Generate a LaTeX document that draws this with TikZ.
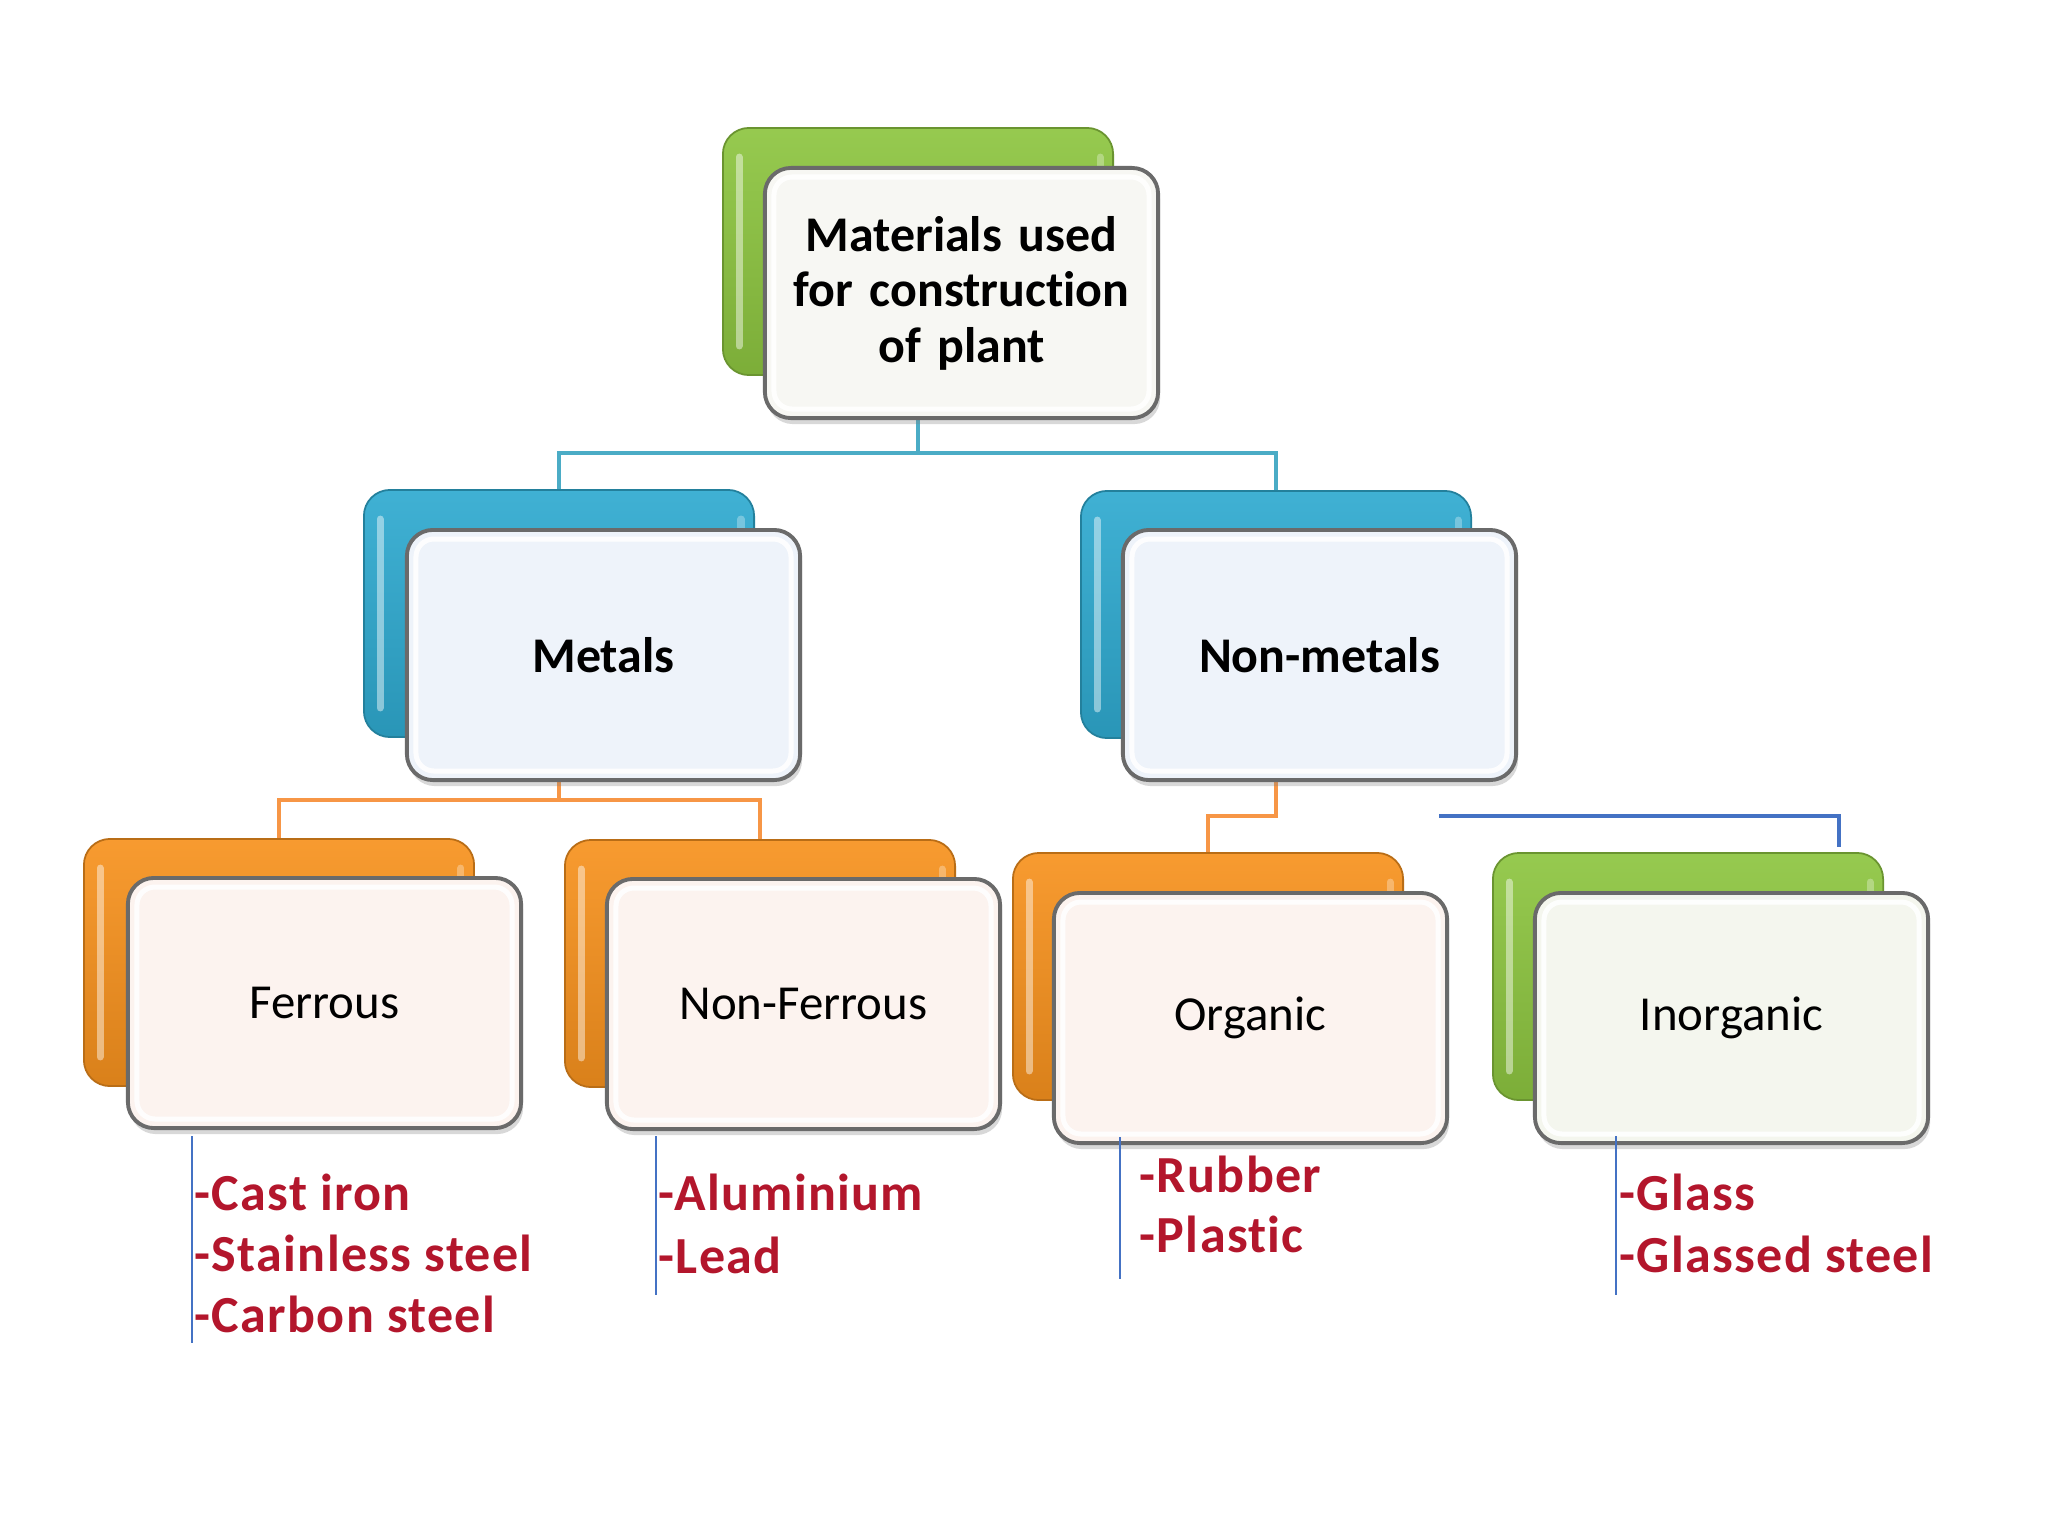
\documentclass[tikz,border=0pt]{standalone}
\usepackage{fontspec}
\setmainfont{Carlito}[RawFeature={-liga}]
\newfontfamily\listfont{Carlito}[LetterSpace=2.5,RawFeature={-liga}]
\usetikzlibrary{shadows,calc}
\definecolor{grn}{HTML}{8DC540}
\definecolor{blu}{HTML}{2FAAD0}
\definecolor{org}{HTML}{F7921E}
\definecolor{boxline}{HTML}{6A6A6A}
\definecolor{conblue}{HTML}{4BACC6}
\definecolor{conorange}{HTML}{F79646}
\definecolor{thinblue}{HTML}{4472C4}
\definecolor{listred}{HTML}{B3162C}
\definecolor{fwhite}{HTML}{F7F7F3}
\definecolor{fblue}{HTML}{EEF3FA}
\definecolor{fpeach}{HTML}{FCF3EF}
\definecolor{fgreen}{HTML}{F4F6EE}
\pgfdeclarelayer{bg}
\pgfsetlayers{bg,main}
\begin{document}
\begin{tikzpicture}[x=0.01cm,y=-0.01cm,
  backbox/.style={rounded corners=0.26cm, minimum width=3.9cm, minimum height=2.47cm, inner sep=0pt,
    draw=#1!75!black, line width=0.5pt, top color=#1!92!white, bottom color=#1!88!black},
  frontbox/.style={rounded corners=0.26cm, minimum width=3.93cm, minimum height=2.5cm, inner sep=0pt,
    draw=boxline, line width=1.1pt, fill=#1, text width=3.7cm, align=center,
    drop shadow={opacity=0.3, shadow xshift=0.02cm, shadow yshift=-0.06cm}},
  gloss/.style={white, opacity=0.45, line width=0.07cm, line cap=round},
  innerline/.style={white, opacity=0.9, line width=0.05cm, rounded corners=0.18cm},
  bigbold/.style={font=\fontsize{14.2pt}{15.8pt}\selectfont\bfseries},
  plain/.style={font=\fontsize{13.9pt}{16pt}\selectfont},
  listtext/.style={font=\listfont\fontsize{14.8pt}{17pt}\selectfont\bfseries, text=listred, anchor=base west, inner sep=0pt},
  bluecon/.style={conblue, line width=0.045cm},
  orangecon/.style={conorange, line width=0.045cm},
  thinline/.style={thinblue, line width=0.02cm},
  strayline/.style={thinblue, line width=0.045cm}]

\begin{pgfonlayer}{bg}
\fill[white] (0,0) rectangle (2048,1536);
\end{pgfonlayer}

% back boxes
\node[backbox=grn] (rootb) at (918,251.5) {};
\node[backbox=blu] (metb) at (559,613.5) {};
\node[backbox=blu] (nmb) at (1276,614.5) {};
\node[backbox=org] (ferb) at (279,962.5) {};
\node[backbox=org] (nfb) at (760,963.5) {};
\node[backbox=org] (orgb) at (1208,976.5) {};
\node[backbox=grn] (inorgb) at (1688,976.5) {};

\foreach \b in {rootb,metb,nmb,ferb,nfb,orgb,inorgb}{
  \draw[gloss] ($(\b.north west)+(17,30)$) -- ($(\b.south west)+(17,-30)$);
  \draw[gloss, opacity=0.3] ($(\b.north east)+(-14,30)$) -- ($(\b.north east)+(-14,60)$);
}

% front boxes
\node[frontbox=fwhite, bigbold] (root) at (961.5,293) {Materials used\\for construction\\of plant};
\node[frontbox=fblue, bigbold] (met) at (603.5,655) {Metals};
\node[frontbox=fblue, bigbold] (nm) at (1319.5,655) {Non-metals};
\node[frontbox=fpeach, plain] (fer) at (324.5,1003) {Ferrous};
\node[frontbox=fpeach, plain] (nf) at (803.5,1004) {Non-Ferrous};
\node[frontbox=fpeach, plain] (orgn) at (1250.5,1018) {Organic};
\node[frontbox=fgreen, plain] (inorg) at (1731.5,1018) {Inorganic};

\foreach \f in {root,met,nm,fer,nf,orgn,inorg}{
  \draw[innerline] ($(\f.north west)+(11,11)$) rectangle ($(\f.south east)+(-11,-11)$);
}

% connectors
\coordinate (j1) at (918,453);
\coordinate (j2) at (559,800);
\coordinate (j3) at (1276,816);
\begin{pgfonlayer}{bg}
\draw[bluecon] (rootb.south) -- (j1) -| (metb.north);
\draw[bluecon] (j1) -| (nmb.north);
\draw[orangecon] (metb.south) -- (j2) -| (ferb.north);
\draw[orangecon] (j2) -| (nfb.north);
\draw[orangecon] (nmb.south) -- (j3) -| (orgb.north);
\end{pgfonlayer}

% stray line
\coordinate (s1) at (1439,816);
\coordinate (s2) at (1839,816);
\coordinate (s3) at (1839,847);
\draw[strayline] (s1) -- (s2) -- (s3);

% list bars
\coordinate (la1) at (192,1136); \coordinate (la2) at (192,1343);
\coordinate (lb1) at (656,1136); \coordinate (lb2) at (656,1295);
\coordinate (lc1) at (1120,1137); \coordinate (lc2) at (1120,1279);
\coordinate (ld1) at (1616,1136); \coordinate (ld2) at (1616,1295);
\draw[thinline] (la1) -- (la2);
\draw[thinline] (lb1) -- (lb2);
\draw[thinline] (lc1) -- (lc2);
\draw[thinline] (ld1) -- (ld2);

% lists
\node[listtext] (t1) at (194,1210) {-Cast iron};
\node[listtext] (t2) at (194,1271) {-Stainless steel};
\node[listtext] (t3) at (194,1332) {-Carbon steel};
\node[listtext] (t4) at (658,1210) {-Aluminium};
\node[listtext] (t5) at (658,1273) {-Lead};
\node[listtext] (t6) at (1139,1192) {-Rubber};
\node[listtext] (t7) at (1139,1252) {-Plastic};
\node[listtext] (t8) at (1619,1210) {-Glass};
\node[listtext] (t9) at (1619,1272) {-Glassed steel};
\end{tikzpicture}
\end{document}
